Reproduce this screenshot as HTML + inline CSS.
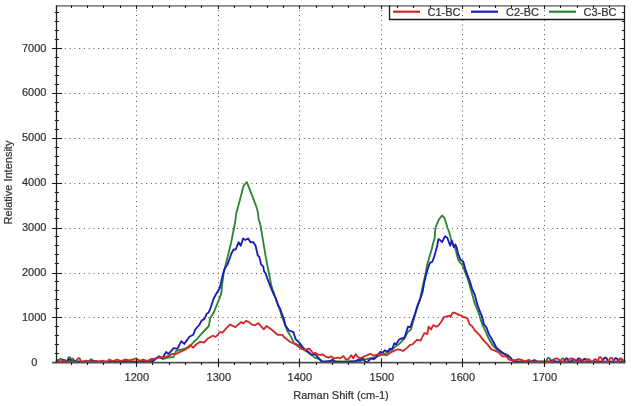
<!DOCTYPE html>
<html><head><meta charset="utf-8"><style>
html,body{margin:0;padding:0;background:#fff;width:640px;height:406px;overflow:hidden}
svg{position:absolute;left:0;top:0;font-family:"Liberation Sans", sans-serif;filter:blur(0.3px)} text{stroke:#3a3a3a;stroke-width:0.22px}
</style></head><body>
<svg width="640" height="406" viewBox="0 0 640 406">
<line x1="136.5" y1="10.3" x2="136.5" y2="361.5" stroke="#555" stroke-width="1" stroke-dasharray="1 3.77"/>
<line x1="218.5" y1="10.3" x2="218.5" y2="361.5" stroke="#555" stroke-width="1" stroke-dasharray="1 3.77"/>
<line x1="299.5" y1="10.3" x2="299.5" y2="361.5" stroke="#555" stroke-width="1" stroke-dasharray="1 3.77"/>
<line x1="381.5" y1="10.3" x2="381.5" y2="361.5" stroke="#555" stroke-width="1" stroke-dasharray="1 3.77"/>
<line x1="462.5" y1="10.3" x2="462.5" y2="361.5" stroke="#555" stroke-width="1" stroke-dasharray="1 3.77"/>
<line x1="544.5" y1="10.3" x2="544.5" y2="361.5" stroke="#555" stroke-width="1" stroke-dasharray="1 3.77"/>
<line x1="64.8" y1="317.5" x2="622.5" y2="317.5" stroke="#555" stroke-width="1" stroke-dasharray="1 3.78"/>
<line x1="64.8" y1="273.5" x2="622.5" y2="273.5" stroke="#555" stroke-width="1" stroke-dasharray="1 3.78"/>
<line x1="64.8" y1="228.5" x2="622.5" y2="228.5" stroke="#555" stroke-width="1" stroke-dasharray="1 3.78"/>
<line x1="64.8" y1="183.5" x2="622.5" y2="183.5" stroke="#555" stroke-width="1" stroke-dasharray="1 3.78"/>
<line x1="64.8" y1="138.5" x2="622.5" y2="138.5" stroke="#555" stroke-width="1" stroke-dasharray="1 3.78"/>
<line x1="64.8" y1="93.5" x2="622.5" y2="93.5" stroke="#555" stroke-width="1" stroke-dasharray="1 3.78"/>
<line x1="64.8" y1="48.5" x2="622.5" y2="48.5" stroke="#555" stroke-width="1" stroke-dasharray="1 3.78"/>
<path d="M56.5,361.6 L58.2,361.6 L59.7,359.1 L60.7,358.7 L61.7,359.1 L63.2,361.6 L66.8,361.6 L68.3,357.8 L69.3,357.1 L70.3,357.8 L71.8,361.6 L71.9,359.1 L72.6,358.6 L73.3,359.1 L74.4,361.6 L88.7,361.6 L90.2,359.7 L91.2,359.4 L92.2,359.7 L93.7,361.6 L140.0,361.6 L140.0,361.5 L150.0,360.5 L158.9,357.5 L162.8,359.0 L167.7,357.5 L173.6,357.0 L176.1,351.0 L183.7,348.9 L188.7,347.6 L193.7,342.0 L196.0,340.0 L200.9,334.3 L204.6,330.5 L208.9,326.0 L210.2,317.9 L213.9,312.3 L216.3,306.2 L218.2,301.6 L221.1,294.2 L222.5,282.0 L223.9,271.7 L227.6,256.9 L231.2,242.2 L235.2,222.0 L236.3,213.2 L239.0,203.3 L240.0,199.6 L242.5,189.8 L243.7,185.5 L246.8,182.1 L249.9,189.8 L252.3,195.9 L256.0,205.8 L257.9,212.0 L258.6,219.0 L260.3,224.3 L262.3,236.2 L266.0,258.4 L268.7,272.0 L271.4,285.9 L275.1,296.9 L278.1,304.3 L281.8,316.1 L283.2,320.0 L287.2,330.7 L291.4,337.6 L294.1,343.1 L299.7,345.9 L305.2,350.7 L310.7,354.1 L314.8,357.6 L319.0,359.0 L323.1,361.7 L329.3,361.0 L340.0,361.5 L355.0,361.5 L362.5,360.0 L367.5,358.8 L375.0,357.5 L381.3,355.0 L387.5,352.5 L393.8,348.1 L400.0,343.1 L404.4,338.4 L408.1,331.8 L411.0,329.5 L413.0,322.0 L416.0,312.0 L420.5,297.0 L423.0,285.0 L425.6,273.6 L427.1,264.8 L429.3,257.4 L431.5,250.0 L433.2,242.8 L434.7,238.4 L435.2,229.5 L436.2,225.8 L439.1,219.2 L442.1,215.5 L444.3,217.7 L445.8,222.2 L447.3,227.3 L449.5,233.2 L451.0,239.1 L453.2,244.3 L455.4,248.7 L458.1,259.5 L459.6,261.8 L462.6,265.5 L464.8,271.4 L467.7,278.7 L471.6,292.0 L474.9,303.9 L478.6,312.7 L482.1,324.0 L485.5,331.2 L488.8,338.8 L492.5,345.0 L497.5,350.0 L502.5,353.1 L508.1,355.0 L512.5,360.0 L517.5,361.3 L519.0,361.6 L546.1,361.6 L547.6,358.4 L548.6,357.8 L549.6,358.4 L551.1,361.6 L560.2,361.6 L561.7,358.9 L562.7,358.4 L563.7,358.9 L565.2,361.6 L617.7,361.6 L619.2,358.9 L620.2,358.4 L621.2,358.9 L622.7,361.6 L624.5,361.6" fill="none" stroke="#2e8633" stroke-width="1.85" stroke-linejoin="round" stroke-linecap="round"/>
<path d="M56.5,361.6 L57.4,360.6 L58.0,360.4 L58.6,360.6 L59.5,361.6 L61.3,361.6 L62.8,360.2 L63.8,360.0 L64.8,360.2 L66.3,361.6 L67.3,361.6 L68.5,359.7 L69.3,359.4 L70.1,359.7 L71.3,361.6 L73.0,361.6 L74.2,360.8 L75.0,360.6 L75.8,360.8 L77.0,361.6 L90.7,361.6 L91.9,360.9 L92.7,360.8 L93.5,360.9 L94.7,361.6 L108.0,361.6 L109.2,361.2 L110.0,361.1 L110.8,361.2 L112.0,361.6 L123.0,361.6 L124.2,361.2 L125.0,361.1 L125.8,361.2 L127.0,361.6 L150.0,361.6 L150.0,362.0 L152.3,362.0 L156.1,358.3 L159.2,356.4 L162.3,358.3 L166.1,352.0 L168.6,353.9 L173.6,348.2 L177.4,348.9 L181.2,341.3 L184.3,343.9 L189.4,336.8 L193.3,334.8 L195.3,329.4 L199.2,325.0 L201.9,320.3 L203.8,319.4 L205.2,317.5 L206.6,313.8 L208.4,312.8 L209.8,310.0 L211.4,305.5 L213.7,298.5 L216.0,294.2 L219.7,288.3 L221.6,280.0 L222.6,275.5 L224.6,268.7 L227.6,264.3 L231.2,254.0 L233.5,249.5 L235.7,249.5 L238.6,242.2 L240.8,245.8 L243.1,238.5 L245.3,240.0 L248.2,238.5 L250.5,242.2 L253.4,242.2 L255.6,245.8 L257.8,255.5 L259.3,256.9 L261.1,264.4 L263.3,266.6 L264.0,271.1 L265.5,273.3 L267.0,277.7 L269.9,285.1 L272.9,292.5 L275.8,298.4 L278.1,305.8 L280.3,308.7 L281.8,313.9 L284.0,319.1 L285.2,325.2 L289.3,330.7 L293.4,332.1 L295.5,339.0 L299.7,343.1 L303.8,348.6 L307.9,351.4 L311.4,354.8 L314.8,354.1 L319.0,358.3 L321.7,361.7 L327.2,361.7 L330.0,361.3 L332.5,359.4 L335.0,361.9 L345.0,361.9 L355.0,361.1 L358.8,359.5 L360.0,360.8 L362.3,357.7 L365.5,362.0 L367.8,361.6 L370.9,358.4 L373.7,359.2 L375.6,357.7 L380.3,351.8 L382.7,352.6 L385.0,350.2 L387.3,351.8 L390.0,348.7 L392.0,349.5 L394.4,343.2 L395.9,344.4 L399.0,339.7 L402.2,338.1 L403.8,338.9 L405.3,335.0 L408.1,326.6 L410.3,327.3 L412.5,320.7 L415.5,312.0 L417.5,305.5 L419.5,301.0 L420.8,297.3 L422.7,291.4 L424.1,283.2 L426.4,273.6 L428.6,266.2 L430.1,262.6 L432.3,261.8 L434.5,255.9 L436.0,250.0 L436.9,247.3 L438.4,239.1 L440.6,240.6 L442.1,242.1 L445.1,236.2 L447.3,237.7 L450.2,245.8 L451.7,240.6 L453.9,247.3 L455.5,244.5 L456.8,248.0 L458.1,253.6 L460.3,259.5 L463.3,261.8 L465.5,269.9 L467.7,275.8 L470.0,281.7 L472.2,289.1 L474.9,295.0 L477.1,303.9 L479.3,309.8 L482.3,317.2 L483.8,324.0 L486.5,327.5 L488.9,334.1 L491.9,339.3 L494.5,344.0 L496.3,347.5 L500.0,350.6 L503.8,353.8 L507.5,356.3 L510.2,357.5 L512.5,360.6 L516.3,361.3 L522.5,361.9 L524.0,361.6 L531.9,361.6 L533.4,360.3 L534.4,360.1 L535.4,360.3 L536.9,361.6 L550.0,361.6 L551.5,360.3 L552.5,360.1 L553.5,360.3 L555.0,361.6 L564.1,361.6 L565.6,358.9 L566.6,358.4 L567.6,358.9 L569.1,361.6 L571.1,361.6 L572.6,359.5 L573.6,359.1 L574.6,359.5 L576.1,361.6 L576.2,361.6 L577.7,358.9 L578.7,358.4 L579.7,358.9 L581.2,361.6 L582.4,361.6 L583.9,359.2 L584.9,358.8 L585.9,359.2 L587.4,361.6 L602.3,361.6 L604.1,358.2 L605.3,357.6 L606.5,358.2 L608.3,361.6 L613.4,361.6 L614.9,358.5 L615.9,358.0 L616.9,358.5 L618.4,361.6 L624.5,361.6" fill="none" stroke="#1a1cbc" stroke-width="1.85" stroke-linejoin="round" stroke-linecap="round"/>
<path d="M56.5,361.6 L57.2,360.3 L57.8,360.1 L58.4,360.3 L59.3,361.6 L61.5,361.6 L62.7,360.8 L63.5,360.6 L64.3,360.8 L65.5,361.6 L76.2,361.6 L77.7,358.7 L78.7,358.2 L79.7,358.7 L81.2,361.6 L84.0,361.6 L85.2,360.8 L86.0,360.6 L86.8,360.8 L88.0,361.6 L94.0,361.6 L95.2,360.9 L96.0,360.8 L96.8,360.9 L98.0,361.6 L100.0,361.6 L101.2,360.8 L102.0,360.6 L102.8,360.8 L104.0,361.6 L108.0,361.6 L109.0,359.5 L113.0,361.0 L117.0,359.5 L121.0,361.0 L125.0,359.5 L129.0,360.5 L133.0,359.5 L136.0,358.3 L139.8,360.8 L143.5,359.5 L147.3,361.4 L151.0,358.9 L154.8,358.9 L159.8,357.0 L163.6,357.7 L167.4,356.4 L172.4,353.9 L176.2,353.9 L181.2,351.4 L185.6,349.5 L190.0,345.1 L193.1,347.6 L196.0,344.5 L199.7,341.9 L204.0,342.5 L208.3,338.2 L212.6,335.7 L215.7,337.0 L220.0,332.0 L222.5,332.6 L226.2,328.3 L229.9,324.6 L235.4,327.1 L241.0,322.2 L243.4,323.4 L245.9,320.9 L249.0,322.2 L252.0,324.6 L255.1,325.2 L258.3,323.1 L263.8,329.3 L266.6,325.9 L272.1,330.0 L277.6,334.8 L282.4,334.8 L284.5,337.6 L290.0,341.7 L295.5,344.5 L301.0,348.6 L305.2,350.0 L309.3,348.6 L313.4,353.5 L315.0,352.9 L318.9,354.8 L322.8,354.5 L325.9,356.8 L328.7,357.6 L331.4,356.4 L333.8,358.4 L337.7,357.6 L340.0,358.4 L343.5,356.0 L345.9,359.5 L348.6,358.8 L351.3,355.2 L353.3,358.4 L355.6,354.1 L357.6,356.8 L360.3,358.4 L363.4,356.8 L366.2,355.7 L370.2,353.8 L373.7,355.7 L376.4,354.9 L379.5,353.8 L382.7,354.5 L386.6,355.3 L388.9,353.8 L391.2,352.2 L394.4,350.6 L397.5,349.5 L400.6,349.8 L403.0,351.0 L406.9,347.9 L410.0,344.8 L412.5,344.3 L416.9,339.9 L420.6,340.6 L424.3,333.2 L427.3,334.0 L428.7,326.6 L431.0,329.5 L433.2,325.1 L436.1,326.6 L438.0,326.0 L440.9,322.3 L443.9,317.2 L446.8,316.4 L449.8,315.7 L450.5,317.2 L452.7,312.7 L454.9,312.7 L458.6,314.9 L461.6,315.7 L463.1,317.2 L465.3,317.2 L467.5,318.6 L469.7,324.5 L471.9,326.0 L474.9,330.5 L479.3,334.9 L483.8,340.6 L487.5,344.4 L491.3,349.4 L495.0,350.6 L498.8,352.5 L502.5,356.3 L506.3,356.3 L508.8,359.5 L513.3,360.6 L518.8,359.1 L521.9,360.2 L525.0,361.4 L528.9,359.8 L531.3,361.4 L532.0,361.6 L551.9,361.6 L554.6,358.9 L556.4,358.4 L558.2,358.9 L560.9,361.6 L566.8,361.6 L569.5,358.9 L571.3,358.4 L573.1,358.9 L575.8,361.6 L578.1,361.6 L579.6,359.5 L580.6,359.1 L581.6,359.5 L583.1,361.6 L585.9,361.6 L587.4,359.5 L588.4,359.1 L589.4,359.5 L590.9,361.6 L592.7,361.6 L594.2,359.5 L595.2,359.1 L596.2,359.5 L597.7,361.6 L599.0,357.8 L600.2,357.1 L601.4,357.8 L603.2,361.6 L608.2,361.6 L610.0,358.4 L611.2,357.8 L612.4,358.4 L614.2,361.6 L618.0,361.6 L619.8,359.1 L621.0,358.6 L622.2,359.1 L624.0,361.6 L624.5,361.6" fill="none" stroke="#d42828" stroke-width="1.85" stroke-linejoin="round" stroke-linecap="round"/>
<line x1="55.8" y1="5.9" x2="625.2" y2="5.9" stroke="#858585" stroke-width="1.8"/>
<line x1="56.5" y1="5.5" x2="56.5" y2="363.2" stroke="#1e1e1e" stroke-width="1.3"/>
<line x1="624.5" y1="5.5" x2="624.5" y2="363.2" stroke="#1e1e1e" stroke-width="1.3"/>
<line x1="52" y1="362.6" x2="625.2" y2="362.6" stroke="#505050" stroke-width="1.9"/>
<path d="M71.5,362.5V365.0M71.5,5.5V8.0M87.5,362.5V365.0M87.5,5.5V8.0M103.5,362.5V365.0M103.5,5.5V8.0M120.5,362.5V365.0M120.5,5.5V8.0M136.5,358.5V367.0M136.5,5.5V9.0M152.5,362.5V365.0M152.5,5.5V8.0M169.5,362.5V365.0M169.5,5.5V8.0M185.5,362.5V365.0M185.5,5.5V8.0M201.5,362.5V365.0M201.5,5.5V8.0M218.5,358.5V367.0M218.5,5.5V9.0M234.5,362.5V365.0M234.5,5.5V8.0M250.5,362.5V365.0M250.5,5.5V8.0M267.5,362.5V365.0M267.5,5.5V8.0M283.5,362.5V365.0M283.5,5.5V8.0M299.5,358.5V367.0M299.5,5.5V9.0M316.5,362.5V365.0M316.5,5.5V8.0M332.5,362.5V365.0M332.5,5.5V8.0M348.5,362.5V365.0M348.5,5.5V8.0M364.5,362.5V365.0M364.5,5.5V8.0M381.5,358.5V367.0M381.5,5.5V9.0M397.5,362.5V365.0M397.5,5.5V8.0M413.5,362.5V365.0M413.5,5.5V8.0M430.5,362.5V365.0M430.5,5.5V8.0M446.5,362.5V365.0M446.5,5.5V8.0M462.5,358.5V367.0M462.5,5.5V9.0M479.5,362.5V365.0M479.5,5.5V8.0M495.5,362.5V365.0M495.5,5.5V8.0M511.5,362.5V365.0M511.5,5.5V8.0M528.5,362.5V365.0M528.5,5.5V8.0M544.5,358.5V367.0M544.5,5.5V9.0M560.5,362.5V365.0M560.5,5.5V8.0M577.5,362.5V365.0M577.5,5.5V8.0M593.5,362.5V365.0M593.5,5.5V8.0M609.5,362.5V365.0M609.5,5.5V8.0M54.8,353.5H58.9M622.0,353.5H624.5M54.8,344.5H58.9M622.0,344.5H624.5M54.8,335.5H58.9M622.0,335.5H624.5M54.8,326.5H58.9M622.0,326.5H624.5M52,317.5H62M620.0,317.5H624.5M54.8,308.5H58.9M622.0,308.5H624.5M54.8,299.5H58.9M622.0,299.5H624.5M54.8,290.5H58.9M622.0,290.5H624.5M54.8,281.5H58.9M622.0,281.5H624.5M52,273.5H62M620.0,273.5H624.5M54.8,263.5H58.9M622.0,263.5H624.5M54.8,254.5H58.9M622.0,254.5H624.5M54.8,245.5H58.9M622.0,245.5H624.5M54.8,236.5H58.9M622.0,236.5H624.5M52,228.5H62M620.0,228.5H624.5M54.8,218.5H58.9M622.0,218.5H624.5M54.8,209.5H58.9M622.0,209.5H624.5M54.8,201.5H58.9M622.0,201.5H624.5M54.8,192.5H58.9M622.0,192.5H624.5M52,183.5H62M620.0,183.5H624.5M54.8,174.5H58.9M622.0,174.5H624.5M54.8,165.5H58.9M622.0,165.5H624.5M54.8,156.5H58.9M622.0,156.5H624.5M54.8,147.5H58.9M622.0,147.5H624.5M52,138.5H62M620.0,138.5H624.5M54.8,129.5H58.9M622.0,129.5H624.5M54.8,120.5H58.9M622.0,120.5H624.5M54.8,111.5H58.9M622.0,111.5H624.5M54.8,102.5H58.9M622.0,102.5H624.5M52,93.5H62M620.0,93.5H624.5M54.8,84.5H58.9M622.0,84.5H624.5M54.8,75.5H58.9M622.0,75.5H624.5M54.8,66.5H58.9M622.0,66.5H624.5M54.8,57.5H58.9M622.0,57.5H624.5M52,48.5H62M620.0,48.5H624.5M54.8,39.5H58.9M622.0,39.5H624.5M54.8,30.5H58.9M622.0,30.5H624.5M54.8,21.5H58.9M622.0,21.5H624.5M54.8,12.5H58.9M622.0,12.5H624.5" stroke="#1a1a1a" stroke-width="1.1" fill="none"/>
<text x="34.2" y="365.5" text-anchor="middle" font-size="11" fill="#2e2e2e">0</text>
<text x="34.2" y="320.6" text-anchor="middle" font-size="11" fill="#2e2e2e">1000</text>
<text x="34.2" y="275.8" text-anchor="middle" font-size="11" fill="#2e2e2e">2000</text>
<text x="34.2" y="230.9" text-anchor="middle" font-size="11" fill="#2e2e2e">3000</text>
<text x="34.2" y="186.1" text-anchor="middle" font-size="11" fill="#2e2e2e">4000</text>
<text x="34.2" y="141.2" text-anchor="middle" font-size="11" fill="#2e2e2e">5000</text>
<text x="34.2" y="96.4" text-anchor="middle" font-size="11" fill="#2e2e2e">6000</text>
<text x="34.2" y="51.5" text-anchor="middle" font-size="11" fill="#2e2e2e">7000</text>
<text x="136.8" y="380.6" text-anchor="middle" font-size="11" fill="#2e2e2e">1200</text>
<text x="218.8" y="380.6" text-anchor="middle" font-size="11" fill="#2e2e2e">1300</text>
<text x="299.8" y="380.6" text-anchor="middle" font-size="11" fill="#2e2e2e">1400</text>
<text x="381.8" y="380.6" text-anchor="middle" font-size="11" fill="#2e2e2e">1500</text>
<text x="462.8" y="380.6" text-anchor="middle" font-size="11" fill="#2e2e2e">1600</text>
<text x="544.8" y="380.6" text-anchor="middle" font-size="11" fill="#2e2e2e">1700</text>
<text x="341" y="399" text-anchor="middle" font-size="11" fill="#2e2e2e">Raman Shift (cm-1)</text>
<text transform="translate(11.5,182.5) rotate(-90)" text-anchor="middle" font-size="11" fill="#2e2e2e">Relative Intensity</text>
<path d="M389.5,5.5V19.5H624.5" fill="none" stroke="#1a1a1a" stroke-width="1.3"/>
<line x1="393" y1="11.7" x2="420" y2="11.7" stroke="#d42828" stroke-width="2.2"/>
<text x="427.5" y="15.6" font-size="11" fill="#2e2e2e">C1-BC</text>
<line x1="471" y1="11.7" x2="498" y2="11.7" stroke="#1a1cbc" stroke-width="2.2"/>
<text x="506" y="15.6" font-size="11" fill="#2e2e2e">C2-BC</text>
<line x1="549" y1="11.7" x2="576" y2="11.7" stroke="#2e8633" stroke-width="2.2"/>
<text x="583.5" y="15.6" font-size="11" fill="#2e2e2e">C3-BC</text>
</svg>
</body></html>
